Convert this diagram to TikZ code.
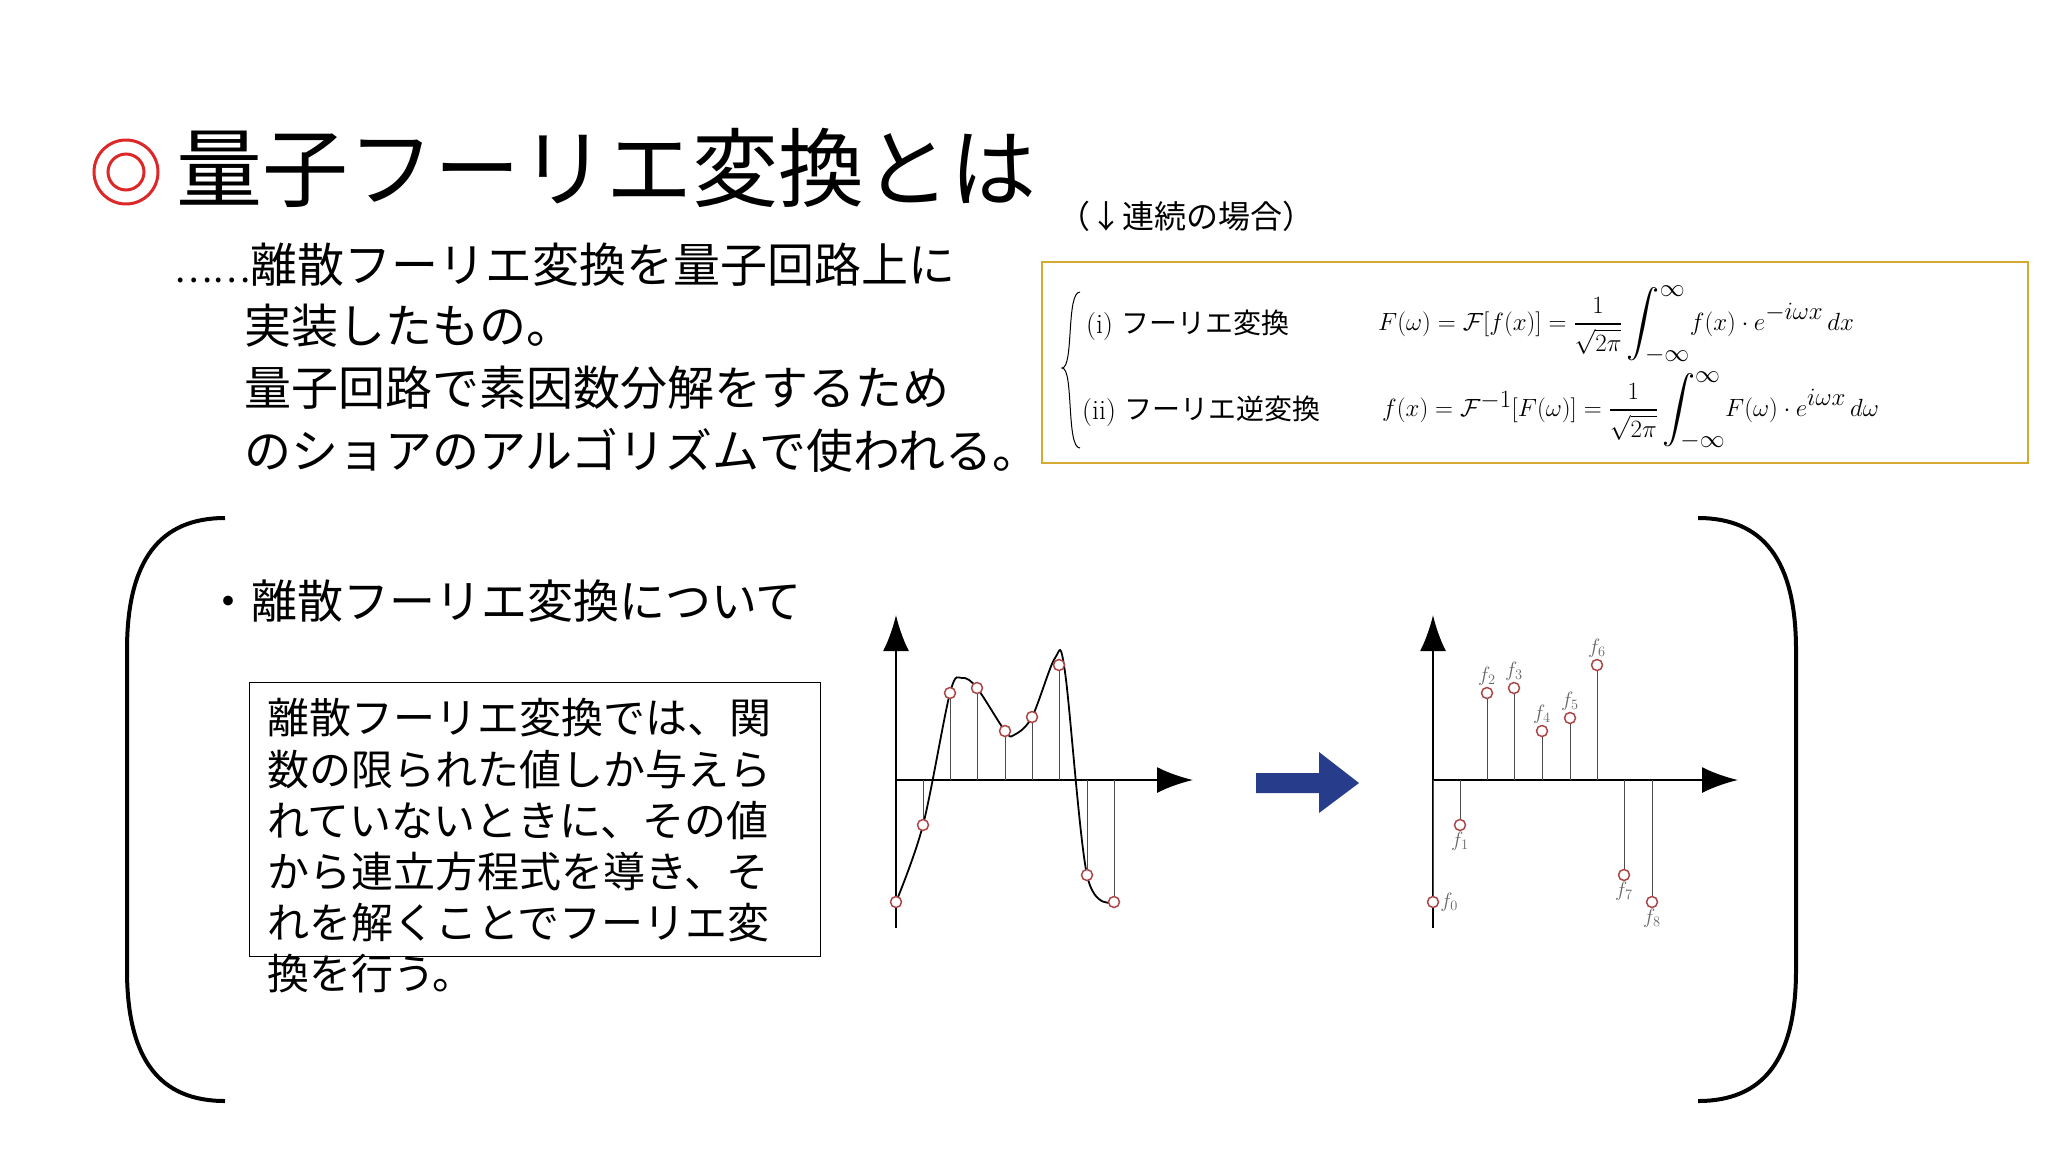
\documentclass[tikz,border=0pt]{standalone}
\usepackage{fontspec}
\usepackage{amsmath,amssymb}
\newfontfamily\jp{Noto Sans CJK JP}
\usetikzlibrary{arrows.meta}
\definecolor{gold}{RGB}{212,170,50}
\definecolor{redc}{RGB}{220,40,40}
\definecolor{mk}{RGB}{170,70,70}
\definecolor{bluea}{RGB}{40,60,140}
\tikzset{
 jt/.style={anchor=west,inner sep=0pt,font=\jp\fontsize{47}{56}\selectfont},
 bt/.style={anchor=west,inner sep=0pt,font=\jp\fontsize{42}{50}\selectfont},
 ax/.style={line width=2.5pt,-{Latex[length=36pt,width=26pt]}},
 stem/.style={line width=1pt,black!70},
 dot/.style={circle,draw=mk,fill=white,line width=1.5pt,minimum size=11pt,inner sep=0pt},
 fl/.style={font=\fontsize{22}{24}\selectfont\itshape,text=black!60,inner sep=1pt},
 eq/.style={anchor=west,inner sep=0pt,font=\fontsize{33}{36}\selectfont},
}
\begin{document}
\begin{tikzpicture}[x=1pt,y=-1pt]
\useasboundingbox (0,0) rectangle (2048,1152);
% title
\node (ring) [circle,draw=redc,line width=3pt,minimum size=64pt] at (126,172) {};
\node (ring2) [circle,draw=redc,line width=3pt,minimum size=36pt] at (126,172) {};
\node (title) [anchor=west,inner sep=0pt,font=\jp\fontsize{86}{96}\selectfont] at (176,168) {量子フーリエ変換とは};
\node (cont) [anchor=west,inner sep=0pt,font=\jp\fontsize{32}{36}\selectfont] at (1058,216) {（↓連続の場合）};
\node (l1) [jt] at (174,265) {{\fontsize{36}{40}\selectfont ……}離散フーリエ変換を量子回路上に};
\node (l2) [jt] at (244,326) {実装したもの。};
\node (l3) [jt] at (244,388) {量子回路で素因数分解をするため};
\node (l4) [jt] at (244,450) {のショアのアルゴリズムで使われる。};
% formula box
\node (fbox) [draw=gold,line width=2pt,minimum width=986pt,minimum height=201pt,anchor=north west] at (1041,261) {};
\draw[line width=1pt] (1080,292) .. controls (1066,292) and (1074,368) .. (1062,368) .. controls (1074,368) and (1066,448) .. (1080,448);
\node (i1) [eq,font=\fontsize{28}{30}\selectfont] at (1086,325) {(i) {\jp フーリエ変換}};
\node (i2) [eq,font=\fontsize{28}{30}\selectfont] at (1082,411) {(ii) {\jp フーリエ逆変換}};
\node (e1) [eq] at (1378,325) {$F(\omega)=\mathcal{F}[f(x)]=\dfrac{1}{\sqrt{2\pi}}\displaystyle\int_{-\infty}^{\infty}\! f(x)\cdot e^{-i\omega x}\,dx$};
\node (e2) [eq] at (1382,411) {$f(x)=\mathcal{F}^{-1}[F(\omega)]=\dfrac{1}{\sqrt{2\pi}}\displaystyle\int_{-\infty}^{\infty}\! F(\omega)\cdot e^{i\omega x}\,d\omega$};
% brackets
\draw[line width=4pt] (225,518) .. controls (160,518) and (127,560) .. (127,650) -- (127,970) .. controls (127,1060) and (160,1101) .. (225,1101);
\draw[line width=4pt] (1698,518) .. controls (1763,518) and (1796,560) .. (1796,650) -- (1796,970) .. controls (1796,1060) and (1763,1101) .. (1698,1101);
\node (sub) [anchor=west,inner sep=0pt,font=\jp\fontsize{46}{50}\selectfont] at (205,601) {・離散フーリエ変換について};
\node (tb) [draw,line width=1.2pt,minimum width=571pt,minimum height=274pt,anchor=north west] at (249,682) {};
\node (t1) [bt] at (267,718) {離散フーリエ変換では、関};
\node (t2) [bt] at (267,770) {数の限られた値しか与えら};
\node (t3) [bt] at (267,821) {れていないときに、その値};
\node (t4) [bt] at (267,872) {から連立方程式を導き、そ};
\node (t5) [bt] at (267,923) {れを解くことでフーリエ変};
\node (t6) [bt] at (267,974) {換を行う。};
% left plot
\coordinate (lo) at (896,780);
\coordinate (lb) at (896,928);
\coordinate (lt) at (896,615);
\coordinate (lr) at (1193,780);
\draw[ax] (lb) -- (lt);
\draw[ax] (lo) -- (lr);
\foreach \x/\y in {923/825,950/693,977/688,1005/731,1032/717,1059/665,1087/875,1114/902}
  \draw[stem] (\x,780) -- (\x,\y);
\draw[line width=1.8pt] plot[smooth,tension=0.55] coordinates {(896,902) (923,825) (950,693) (962,678) (977,688) (1005,731) (1014,735) (1032,717) (1055,658) (1065,672) (1087,875) (1114,902)};
\foreach \x/\y [count=\i] in {896/902,923/825,950/693,977/688,1005/731,1032/717,1059/665,1087/875,1114/902}
  \node (p\i) [dot] at (\x,\y) {};
% blue arrow
\fill[bluea] (1256,773) -- (1319,773) -- (1319,752) -- (1359,783) -- (1319,813) -- (1319,793) -- (1256,793) -- cycle;
% right plot
\coordinate (rb) at (1433,928);
\coordinate (rt) at (1433,615);
\coordinate (ro) at (1433,780);
\coordinate (rr) at (1738,780);
\draw[ax] (rb) -- (rt);
\draw[ax] (ro) -- (rr);
\foreach \x/\y [count=\i from 0] in {1433/902,1460/825,1487/693,1514/688,1542/731,1570/718,1597/665,1624/875,1652/902}{
  \draw[stem] (\x,780) -- (\x,\y);
  \node (q\i) [dot] at (\x,\y) {};}
\node[fl,anchor=west] at (q0.east) {$f_0$};
\node[fl,anchor=north] at (q1.south) {$f_1$};
\node[fl,anchor=south] at (q2.north) {$f_2$};
\node[fl,anchor=south] at (q3.north) {$f_3$};
\node[fl,anchor=south] at (q4.north) {$f_4$};
\node[fl,anchor=south] at (q5.north) {$f_5$};
\node[fl,anchor=south] at (q6.north) {$f_6$};
\node[fl,anchor=north] at (q7.south) {$f_7$};
\node[fl,anchor=north] at (q8.south) {$f_8$};
\end{tikzpicture}
\end{document}
